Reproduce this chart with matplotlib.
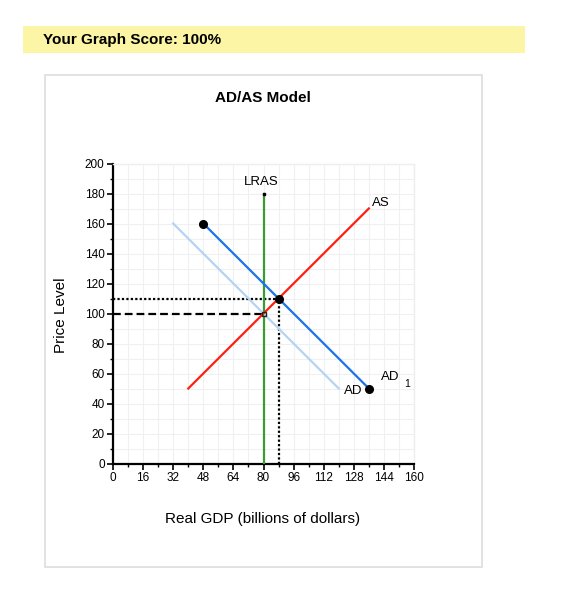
import matplotlib
matplotlib.use("Agg")
import matplotlib.pyplot as plt
import matplotlib.ticker as tk
from matplotlib.patches import Rectangle

plt.rcParams['font.family'] = ['Liberation Sans', 'DejaVu Sans']

# curve end points (real GDP, price level)
lras_x = [80, 80]
lras_y = [0, 180]
as_x = [40, 136]
as_y = [50, 170]
ad_x = [32, 120]
ad_y = [160, 50]
ad1_x = [48, 136]
ad1_y = [160, 50]

# equilibria
eq1 = (88, 110)   # new equilibrium (AD1 with AS)
eq0 = (80, 100)   # old equilibrium (AD with AS)

x_ticks = [0, 16, 32, 48, 64, 80, 96, 112, 128, 144, 160]
y_ticks = [0, 20, 40, 60, 80, 100, 120, 140, 160, 180, 200]

W, H = 578, 597
fig = plt.figure(figsize=(W / 100, H / 100), dpi=100)

#region page decorations
deco = fig.add_axes([0, 0, 1, 1])
deco.set_xlim(0, W)
deco.set_ylim(H, 0)
deco.axis('off')
deco.add_patch(Rectangle((23, 26), 502, 27, facecolor='#fbf5a5', edgecolor='none'))
deco.text(43, 40, "Your Graph Score: 100%", fontsize=11, fontweight='bold',
          va='center', ha='left')
deco.add_patch(Rectangle((45, 75), 437, 492, facecolor='white', edgecolor='#dddddd', lw=1.2))
deco.text(263, 98, "AD/AS Model", fontsize=11, fontweight='bold', ha='center', va='center')
deco.text(263, 519, "Real GDP (billions of dollars)", fontsize=11, ha='center', va='center')
deco.text(61, 315, "Price Level", fontsize=11, ha='center', va='center', rotation=90)
#endregion

#region graph
ax = fig.add_axes([113 / W, 1 - 463.5 / H, 301 / W, 300 / H])
ax.set_xlim(0, 160)
ax.set_ylim(0, 200)

ax.xaxis.set_major_locator(tk.FixedLocator(x_ticks))
ax.yaxis.set_major_locator(tk.FixedLocator(y_ticks))
ax.xaxis.set_minor_locator(tk.MultipleLocator(8))
ax.yaxis.set_minor_locator(tk.MultipleLocator(10))
ax.grid(True, which='both', color='#f0f0f0', lw=0.8)
ax.set_axisbelow(True)
ax.tick_params(which='major', direction='out', length=4, width=1.2, labelsize=8.5, pad=2)
ax.tick_params(which='minor', direction='out', length=2.5, width=1.0)
for side in ['top', 'right']:
    ax.spines[side].set_color('#eeeeee')
    ax.spines[side].set_linewidth(1.0)
for side in ['left', 'bottom']:
    ax.spines[side].set_linewidth(1.6)

# reference lines to the equilibria
ax.plot([0, eq1[0]], [eq1[1], eq1[1]], color='black', lw=1.6, ls=(0, (1, 1)), zorder=3)
ax.plot([eq1[0], eq1[0]], [0, eq1[1]], color='black', lw=1.6, ls=(0, (1, 1)), zorder=3)
ax.plot([0, eq0[0]], [eq0[1], eq0[1]], color='black', lw=1.6, ls=(0, (3.5, 1.8)), zorder=3)

ax.plot(lras_x, lras_y, color='#3c9a2e', lw=1.6, zorder=4)
ax.plot([lras_x[1]], [lras_y[1]], marker='s', ms=2, color='black', zorder=5)
ax.plot(ad_x, ad_y, color='#b5d3f3', lw=1.6, zorder=4)
ax.plot(as_x, as_y, color='#ff2010', lw=1.6, zorder=4)
ax.plot(ad1_x, ad1_y, color='#1a74e8', lw=1.6, zorder=4)

ax.plot([ad1_x[0], ad1_x[1]], [ad1_y[0], ad1_y[1]], ls='none', marker='o', ms=5.5,
        color='black', zorder=6)
ax.plot([eq1[0]], [eq1[1]], marker='o', ms=5.5, color='black', zorder=6)
ax.plot([eq0[0]], [eq0[1]], marker='s', ms=3.5, mfc='none', mec='#222222', mew=1.0, zorder=6)

ax.text(79, 187.5, "LRAS", fontsize=9.5, ha='center', va='center', clip_on=False)
ax.text(137.5, 174, "AS", fontsize=9.5, ha='left', va='center', clip_on=False)
ax.text(123, 48, "AD", fontsize=9.5, ha='left', va='center', clip_on=False)
ax.text(142.3, 57.5, "AD", fontsize=9.5, ha='left', va='center', clip_on=False)
ax.text(155, 53, "1", fontsize=7.5, ha='left', va='center', clip_on=False)
#endregion

fig.savefig("out.png", dpi=100)
